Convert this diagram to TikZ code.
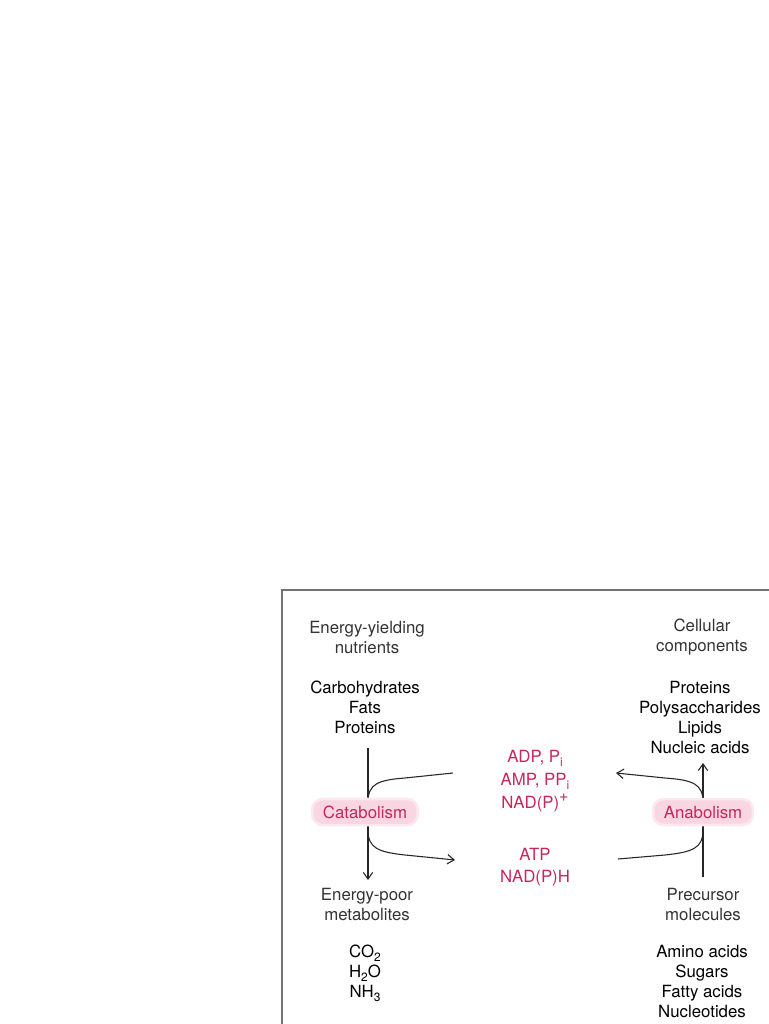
\documentclass[tikz,border=0pt]{standalone}
\usepackage{fontspec}
\setmainfont{TeX Gyre Heros}
\usepackage{tikz}
\usetikzlibrary{arrows.meta, positioning}
\definecolor{crimson}{rgb}{0.78, 0.15, 0.36}
\definecolor{blush}{rgb}{0.97, 0.80, 0.86}
\definecolor{framegray}{rgb}{0.45, 0.45, 0.45}
\definecolor{inkgray}{rgb}{0.2, 0.2, 0.2}
% lowered subscript and raised superscript, as in the figure
\newcommand{\sbs}[1]{\raisebox{-0.45ex}{\fontsize{9}{9}\selectfont #1}}
\newcommand{\sps}[1]{\raisebox{0.7ex}{\fontsize{12}{12}\selectfont #1}}

\begin{document}
\begin{tikzpicture}[>={Straight Barb[length=5pt,width=7pt]}, x=0.75pt, y=-0.75pt]
	\useasboundingbox (0,0) rectangle (768,1024);
	% ------------------------------------------------------------------
	% STYLE DEFINITIONS
	% ------------------------------------------------------------------
	\tikzset{
		txt/.style   = {align=center, font=\fontsize{12.6}{15}\selectfont, inner sep=0pt},
		head/.style  = {txt, text=inkgray},
		item/.style  = {txt, text=black},
		cofac/.style = {txt, text=crimson, font=\fontsize{12.6}{17}\selectfont},
		halo/.style  = {txt, text=crimson, fill=blush!80, rounded corners=7pt,
		                inner xsep=7pt, inner ysep=4pt,
		                preaction={draw=blush!45, line width=4pt}},
		flow/.style  = {line width=0.8pt, black!85},
		frame/.style = {line width=1.5pt, framegray}
	}
	
	% --- Frame ---
	\draw[frame] (770,590) -- (282,590) -- (282,1026);
	
	% --- Text blocks ---
	\node[head] (nutr)  at (367,637) {Energy-yielding\\nutrients};
	\node[head] (cell)  at (702,637) {Cellular\\components};
	\node[item] (fuel)  at (365,707) {Carbohydrates\\Fats\\Proteins};
	\node[item] (macro) at (700,717) {Proteins\\Polysaccharides\\Lipids\\Nucleic acids};
	\node[head] (poor)  at (367,904) {Energy-poor\\metabolites};
	\node[head] (prec)  at (703,904) {Precursor\\molecules};
	\node[item] (waste) at (365,973) {CO\sbs{2}\\H\sbs{2}O\\NH\sbs{3}};
	\node[item] (build) at (702,981) {Amino acids\\Sugars\\Fatty acids\\Nucleotides};
	
	% --- Cofactors (centre) ---
	\node[cofac] (low)  at (535,781) {ADP, P\sbs{i}\\AMP, PP\sbs{i}\\NAD(P)\sps{+}};
	\node[cofac] (high) at (535,867) {ATP\\NAD(P)H};
	
	% --- Catabolism: fuel -> waste ---
	\coordinate (catTop) at (368,748);
	\coordinate (catBot) at (368,880);
	\coordinate (catUp)  at (368,802);
	\coordinate (catDn)  at (368,830);
	\coordinate (lowIn)  at (453,773);
	\coordinate (highOut) at (455,860);
	\draw[flow,->] (catTop) -- (catBot);
	\draw[flow] (catUp) .. controls (368,784) and (378,780) .. (405,778) -- (lowIn);
	\draw[flow,->] (catDn) .. controls (368,848) and (378,852) .. (405,855) -- (highOut);
	
	% --- Anabolism: precursors -> macromolecules ---
	\coordinate (anaBot) at (703,877);
	\coordinate (anaTop) at (703,763);
	\coordinate (anaUp)  at (703,802);
	\coordinate (anaDn)  at (703,830);
	\coordinate (lowOut) at (616,773);
	\coordinate (highIn) at (618,859);
	\draw[flow,->] (anaBot) -- (anaTop);
	\draw[flow,->] (anaUp) .. controls (703,784) and (693,780) .. (665,778) -- (lowOut);
	\draw[flow] (anaDn) .. controls (703,848) and (693,852) .. (665,855) -- (highIn);
	
	% --- Process labels ---
	\node[halo] (cat) at (365,812) {Catabolism};
	\node[halo] (ana) at (703,812) {Anabolism};
	
\end{tikzpicture}
\end{document}
